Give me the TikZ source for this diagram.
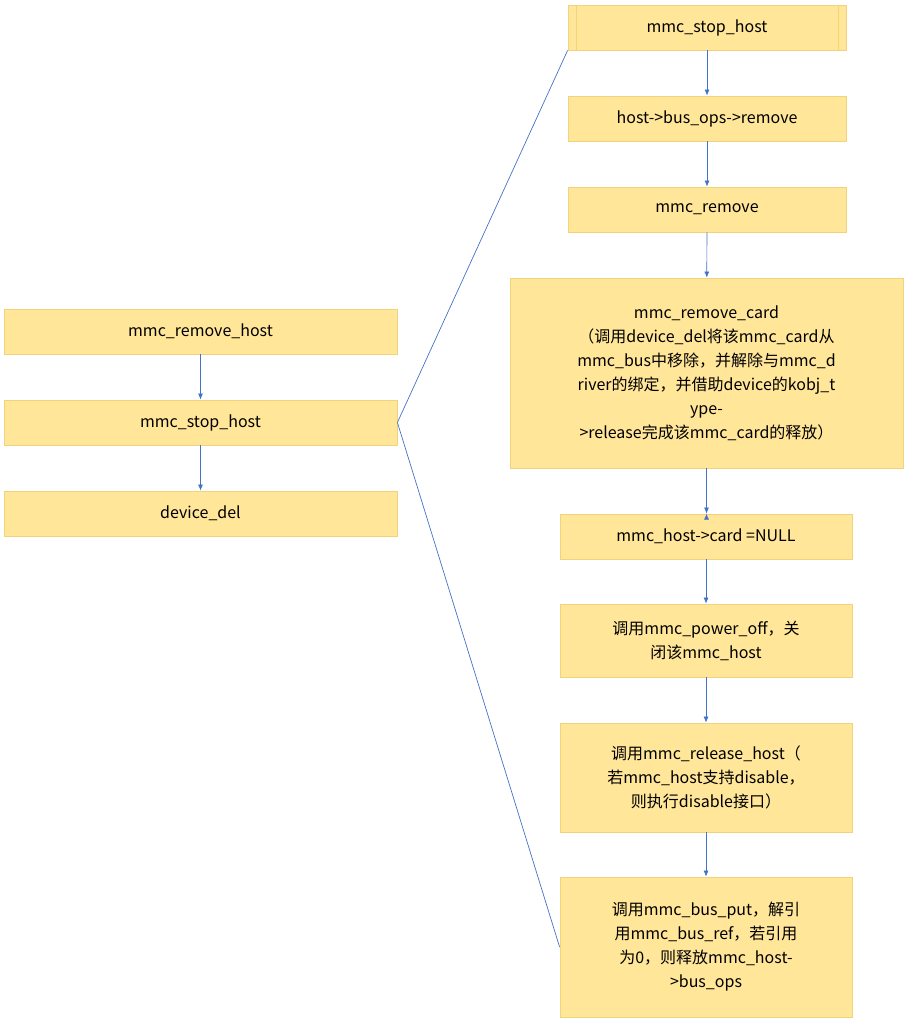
\documentclass[tikz,border=0pt]{standalone}
\usepackage{fontspec}
\setmainfont{Noto Sans CJK SC}
\usetikzlibrary{arrows.meta}
\definecolor{boxfill}{HTML}{FFE699}
\definecolor{boxline}{HTML}{F2D27A}
\definecolor{arr}{HTML}{4472C4}
\tikzset{
  bx/.style={draw=boxline,fill=boxfill,inner sep=0pt,align=center,font=\fontsize{16}{24}\selectfont,line width=0.8pt},
  ar/.style={draw=arr,-{Latex[length=6pt,width=5pt]},line width=0.7pt},
  ln/.style={draw=arr,line width=0.7pt}
}
\newcommand{\bbox}[6]{\node[bx,minimum width=#4-#2,minimum height=#5-#3] (#1) at ({(#2+#4)/2},{(#3+#5)/2}) {#6};}
\begin{document}
\begin{tikzpicture}[x=1pt,y=-1pt]
\useasboundingbox (0,0) rectangle (916,1030);
\bbox{l1}{4}{309}{397}{354}{mmc\_remove\_host}
\bbox{l2}{4}{400}{397}{445}{mmc\_stop\_host}
\bbox{l3}{4}{491}{397}{536}{device\_del}
\bbox{r1}{568}{5}{846}{50}{mmc\_stop\_host}
\draw[boxline,line width=0.8pt] (576,5) -- (576,50) (838,5) -- (838,50);
\bbox{r2}{568}{96}{846}{141}{host->bus\_ops->remove}
\bbox{r3}{568}{187}{846}{232}{mmc\_remove}
\bbox{r4}{510}{278}{903}{468}{mmc\_remove\_card\\（调用device\_del将该mmc\_card从\\mmc\_bus中移除，并解除与mmc\_d\\river的绑定，并借助device的kobj\_t\\ype-\\>release完成该mmc\_card的释放）}
\bbox{r5}{560}{514}{852}{559}{mmc\_host->card =NULL}
\bbox{r6}{560}{604}{852}{677}{调用mmc\_power\_off，关\\闭该mmc\_host}
\bbox{r7}{560}{723}{852}{832}{调用mmc\_release\_host（\\若mmc\_host支持disable，\\则执行disable接口）}
\bbox{r8}{560}{877}{852}{1017}{调用mmc\_bus\_put，解引\\用mmc\_bus\_ref，若引用\\为0，则释放mmc\_host-\\>bus\_ops}
\draw[ar] (l1) -- (l2);
\draw[ar] (l2) -- (l3);
\draw[ar] (r1) -- (r2);
\draw[ar] (r2) -- (r3);
\draw[ar] (r3) -- (r4);
\draw[ar] (r5.north -| r4.south) ++(0,0);
\draw[ar] (r4.south) -- (r4.south |- r5.north);
\draw[ar] (r5) -- (r6);
\draw[ar] (r6) -- (r7);
\draw[ar] (r7) -- (r8);
\draw[ln] (l2.east) -- (r1.south west);
\draw[ln] (l2.east) -- (r8.west);
\end{tikzpicture}
\end{document}
